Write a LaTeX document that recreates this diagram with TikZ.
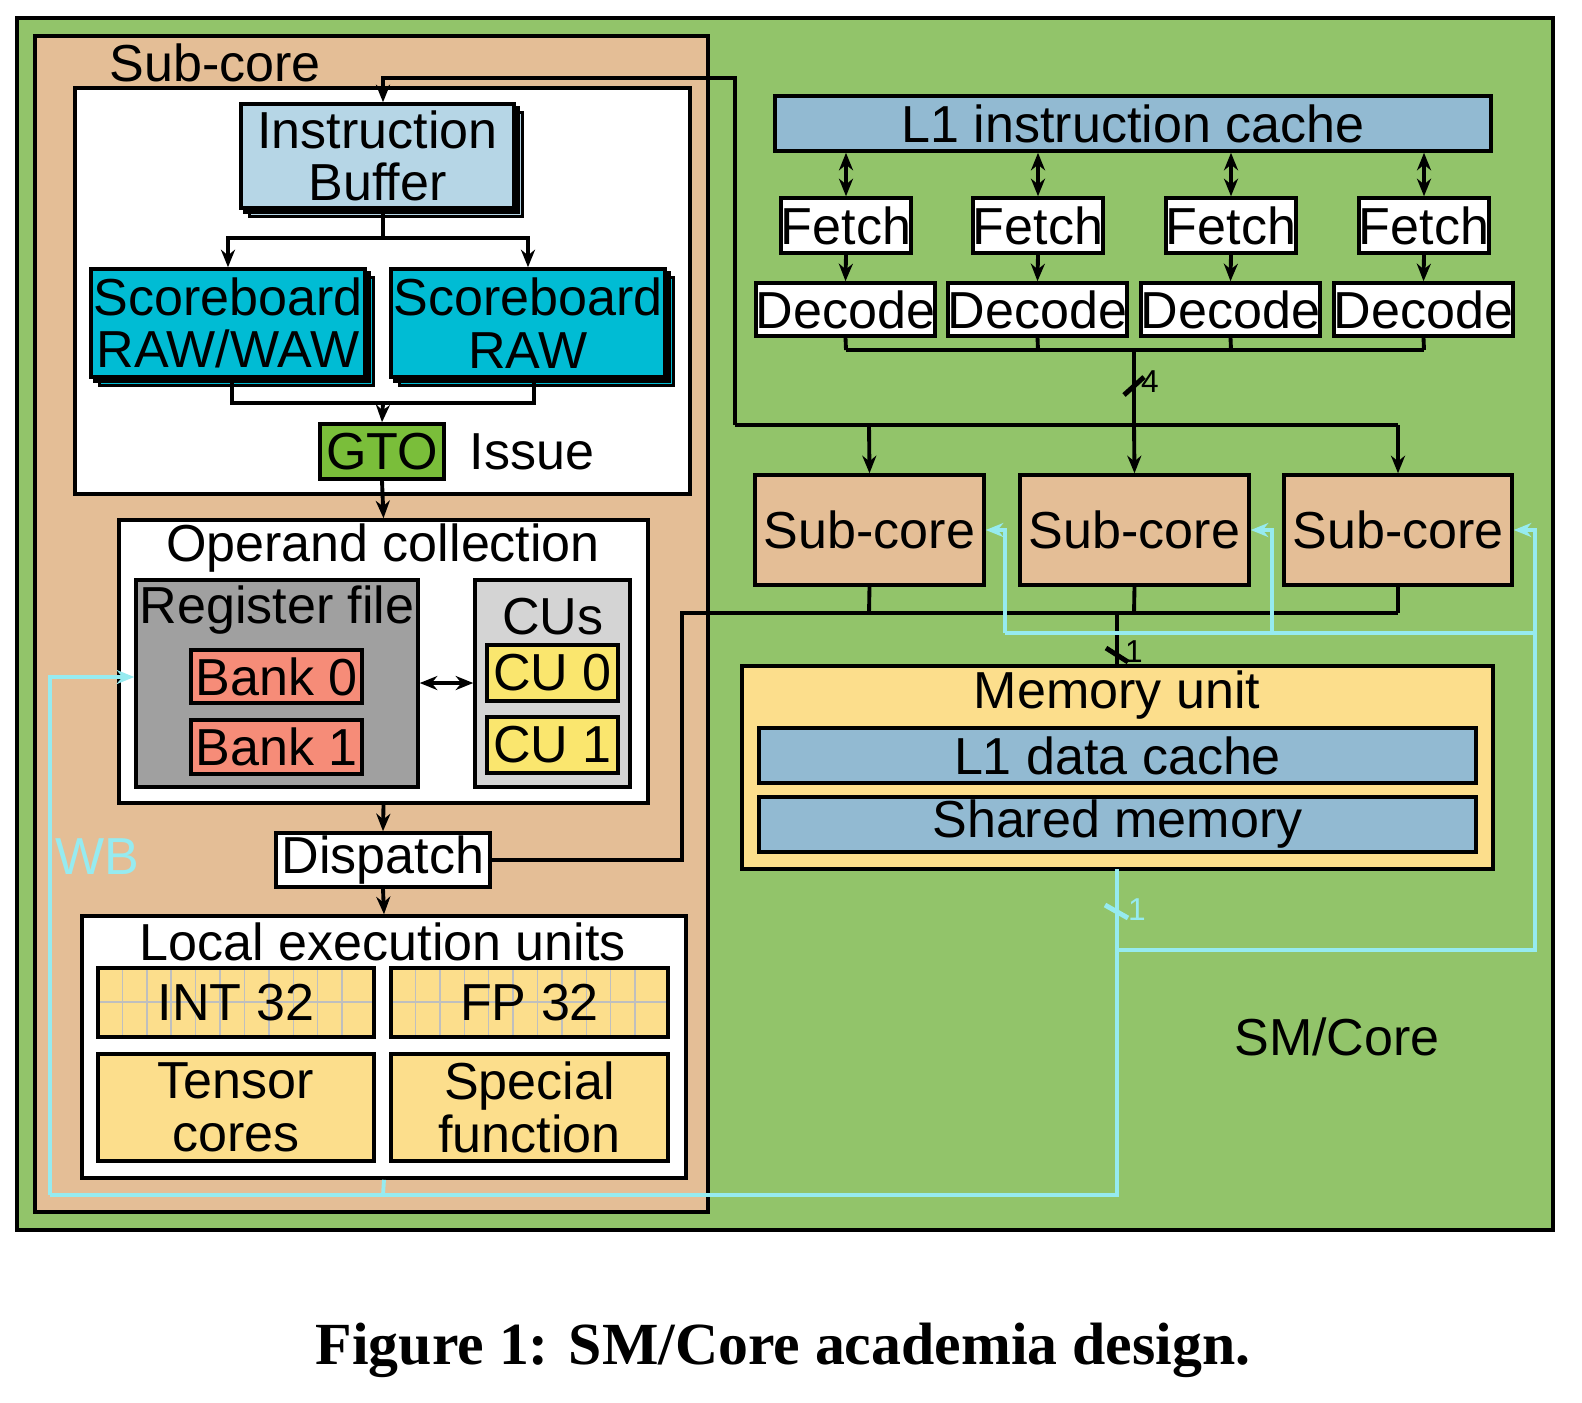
\documentclass[tikz,border=0pt]{standalone}
\usepackage{fontspec}
\setmainfont{Liberation Sans}
\newfontfamily\capfont{Liberation Serif}
\usetikzlibrary{shadows,arrows.meta}

\definecolor{smgreen}{RGB}{146,196,106}
\definecolor{subtan}{RGB}{228,190,150}
\definecolor{ibblue}{RGB}{182,214,230}
\definecolor{sbcyan}{RGB}{0,188,212}
\definecolor{gtogreen}{RGB}{122,190,58}
\definecolor{rfgray}{RGB}{160,160,160}
\definecolor{cugray}{RGB}{212,212,212}
\definecolor{banksal}{RGB}{246,140,120}
\definecolor{unityel}{RGB}{252,222,140}
\definecolor{cuyel}{RGB}{250,230,110}
\definecolor{cacheblue}{RGB}{146,186,210}
\definecolor{wbcyan}{RGB}{150,235,240}

\tikzset{
  blk/.style={draw=black, line width=1pt, inner sep=0pt, align=center,
    font=\fontsize{14.8}{15}\selectfont},
  stack/.style={double copy shadow={shadow xshift=1.2pt, shadow yshift=-1.2pt}},
  wire/.style={line width=1.1pt, -{Stealth[length=5pt,width=4pt]}},
  bus/.style={line width=1.1pt},
  wb/.style={draw=wbcyan, line width=1.1pt},
  lbl/.style={font=\fontsize{14.8}{15}\selectfont, inner sep=0pt}
}
% box given by its corners (in pixels)
\newcommand{\blkbox}[7]{%
  \node[blk, #6, minimum width={(#4-#2)*0.01cm}, minimum height={(#5-#3)*0.01cm}]
    (#1) at ({(#2+#4)/2},{(#3+#5)/2}) {#7};}

\begin{document}
\begin{tikzpicture}[x=0.01cm, y=-0.01cm]
  % SM and sub-core frames
  \draw[fill=smgreen, line width=1pt] (17,18) rectangle (1553,1230);
  \draw[fill=subtan, line width=1pt] (35,36) rectangle (708,1212);
  \node[lbl] at (215,63) {Sub-core};
  \draw[fill=white, line width=1pt] (75,88) rectangle (690,494);

  % issue stage
  \blkbox{ib}{241}{104}{514}{208}{fill=ibblue, stack}{Instruction\\Buffer}
  \blkbox{sba}{91}{269}{365}{377}{fill=sbcyan, stack}{Scoreboard\\RAW/WAW}
  \blkbox{sbb}{391}{269}{665}{377}{fill=sbcyan, stack}{Scoreboard\\RAW}
  \blkbox{gto}{320}{424}{444}{479}{fill=gtogreen}{GTO}
  \node[lbl] at (532,452) {Issue};

  \draw[bus] (383,211) -- (383,238) coordinate (ibs);
  \draw[wire] (ibs) -| (sba.north);
  \draw[wire] (ibs) -| (sbb.north);
  \draw[bus] (232,381) |- (383,403) -| (534,381);
  \draw[wire] (383,403) -- (gto.north);

  % operand collection
  \blkbox{oc}{119}{520}{648}{803}{fill=white}{}
  \node[lbl] at (383,548) {Operand collection};
  \blkbox{rf}{136}{580}{418}{787}{fill=rfgray}{}
  \node[lbl] at (277,610) {Register file};
  \blkbox{bank0}{191}{650}{362}{703}{fill=banksal}{Bank 0}
  \blkbox{bank1}{191}{720}{362}{774}{fill=banksal}{Bank 1}
  \blkbox{cus}{475}{580}{630}{787}{fill=cugray}{}
  \node[lbl] at (553,617) {CUs};
  \blkbox{cu0}{487}{645}{618}{701}{fill=cuyel}{CU 0}
  \blkbox{cu1}{487}{717}{618}{773}{fill=cuyel}{CU 1}
  \draw[line width=1.1pt, {Stealth[length=5pt,width=4pt]}-{Stealth[length=5pt,width=4pt]}] (rf.east |- 0,683) -- (cus.west |- 0,683);
  \draw[wire] (gto.south) -- (oc.north);

  % dispatch and execution
  \blkbox{disp}{276}{833}{490}{887}{fill=white}{Dispatch}
  \draw[wire] (oc.south) -- (disp.north);
  \blkbox{leu}{82}{916}{686}{1178}{fill=white}{}
  \node[lbl] at (383,942) {Local execution units};
  \draw[wire] (disp.south) -- (leu.north);
  \fill[unityel] (98,968) rectangle (374,1037) (391,968) rectangle (668,1037);
  \foreach \x in {0,...,10}{
    \draw[black!25, line width=0.4pt] (98+\x*24.4,968) -- (98+\x*24.4,1037);
    \draw[black!25, line width=0.4pt] (391+\x*24.4,968) -- (391+\x*24.4,1037);
  }
  \draw[black!25, line width=0.4pt] (98,1002) -- (374,1002) (391,1002) -- (668,1002);
  \blkbox{int}{98}{968}{374}{1037}{}{INT 32}
  \blkbox{fp}{391}{968}{668}{1037}{}{FP 32}
  \blkbox{tensor}{98}{1054}{374}{1161}{fill=unityel}{Tensor\\cores}
  \blkbox{sfu}{391}{1054}{668}{1161}{fill=unityel}{Special\\function}

  % front end
  \blkbox{icache}{775}{96}{1491}{151}{fill=cacheblue}{L1 instruction cache}
  \foreach \i/\x in {1/846,2/1038,3/1231,4/1424}{
    \blkbox{fetch\i}{\x-67}{198}{\x+67}{253}{fill=white}{Fetch}
    \blkbox{dec\i}{\x-92}{283}{\x+91}{336}{fill=white}{Decode}
    \draw[line width=1.1pt, {Stealth[length=5pt,width=4pt]}-{Stealth[length=5pt,width=4pt]}] (icache.south -| fetch\i) -- (fetch\i.north);
    \draw[wire] (fetch\i.south) -- (dec\i.north);
    \draw[bus] (dec\i.south) -- (\x,350);
  }
  \draw[bus] (846,350) -- (1424,350);

  % sub-cores
  \blkbox{sc1}{755}{475}{984}{585}{fill=subtan}{Sub-core}
  \blkbox{sc2}{1020}{475}{1249}{585}{fill=subtan}{Sub-core}
  \blkbox{sc3}{1284}{475}{1512}{585}{fill=subtan}{Sub-core}
  \draw[bus] (1134,350) -- (1134,425);
  \draw[line width=1.4pt] (1124,395) -- (1144,377);
  \node[font=\fontsize{9}{9}\selectfont, inner sep=0pt] at (1150,382) {4};
  \draw[bus] (735,425) -- (1398,425);
  \draw[wire] (735,425) |- (383,78) -- (ib.north -| 383,0);
  \draw[wire] (869,425) -- (sc1.north);
  \draw[wire] (1134,425) -- (sc2.north);
  \draw[wire] (1398,425) -- (sc3.north);

  % memory unit
  \blkbox{mem}{742}{666}{1493}{869}{fill=unityel}{}
  \node[lbl] at (1117,695) {Memory unit};
  \blkbox{l1d}{759}{728}{1476}{783}{fill=cacheblue}{L1 data cache}
  \blkbox{smem}{759}{797}{1476}{852}{fill=cacheblue}{Shared memory}
  \draw[bus] (sc1.south) -- (869,613);
  \draw[bus] (sc2.south) -- (1134,613);
  \draw[bus] (sc3.south) -- (1398,613);
  \draw[bus] (disp.east) -| (682,613) -- (1398,613);
  \draw[bus] (1117,613) -- (mem.north -| 1117,0);
  \draw[line width=1.4pt] (1106,648) -- (1128,662);
  \node[font=\fontsize{9}{9}\selectfont, inner sep=0pt] at (1134,652) {1};

  % write back
  \draw[wb] (1117,869) -- (1117,1195) -- (50,1195);
  \draw[wb] (383,1195) -- (leu.south);
  \draw[wb, -{Stealth[length=5pt,width=4pt]}] (50,1195) |- (rf.west |- 0,677);
  \draw[wb] (1117,950) -| (1535,633) -- (1005,633);
  \draw[wb, -{Stealth[length=5pt,width=4pt]}] (1005,633) |- (sc1.east |- 0,530);
  \draw[wb, -{Stealth[length=5pt,width=4pt]}] (1272,633) |- (sc2.east |- 0,530);
  \draw[wb, -{Stealth[length=5pt,width=4pt]}] (1535,633) |- (sc3.east |- 0,530);
  \draw[draw=wbcyan, line width=1.4pt] (1105,905) -- (1128,918);
  \node[font=\fontsize{9}{9}\selectfont, inner sep=0pt, text=wbcyan] at (1137,910) {1};
  \node[lbl, text=wbcyan] at (97,857) {WB};

  \node[lbl] at (1337,1037) {SM/Core};
  \node[font=\capfont\bfseries\fontsize{17}{17}\selectfont, inner sep=0pt] at (783,1350) {Figure 1: SM/Core academia design.};

  \pgfresetboundingbox
  \useasboundingbox (0,0) rectangle (1582,1402);
\end{tikzpicture}
\end{document}
